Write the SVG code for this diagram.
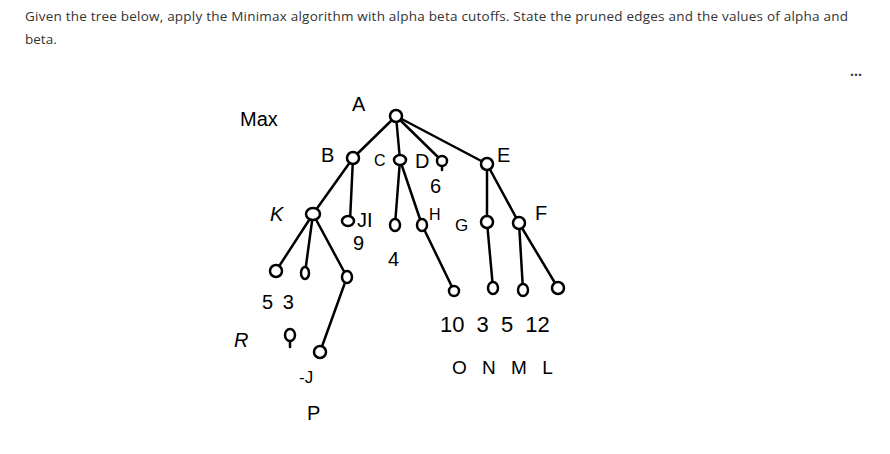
<svg xmlns="http://www.w3.org/2000/svg" width="890" height="454" viewBox="0 0 890 454">
<style>
.h{font-family:"Open Sans",sans-serif;font-size:13.5px;fill:#333}
.e line{stroke:#000;stroke-width:2.5;stroke-linecap:round}
.n{fill:#fff;stroke:#000;stroke-width:2.5}
.l{font-family:"Liberation Sans",sans-serif;font-size:20px;fill:#000}
</style>
<rect width="890" height="454" fill="#fff"/>
<text class="h" x="25" y="21" textLength="823" lengthAdjust="spacing">Given the tree below, apply the Minimax algorithm with alpha beta cutoffs. State the pruned edges and the values of alpha and</text>
<text class="h" x="25" y="44">beta.</text>
<text class="h" x="850" y="76" style="font-size:14px;font-weight:bold">...</text>
<g class="e" id="edges">
<line x1="396" y1="116" x2="353" y2="158"/><line x1="396" y1="116" x2="400" y2="160"/>
<line x1="396" y1="116" x2="442" y2="161"/><line x1="396" y1="116" x2="487" y2="164"/>
<line x1="353" y1="158" x2="313" y2="214"/><line x1="353" y1="158" x2="350" y2="221"/>
<line x1="400" y1="160" x2="395" y2="225"/><line x1="400" y1="160" x2="422" y2="225"/>
<line x1="487" y1="164" x2="487" y2="222"/><line x1="487" y1="164" x2="519" y2="223"/>
<line x1="313" y1="214" x2="276" y2="271"/><line x1="313" y1="214" x2="305" y2="273"/><line x1="313" y1="214" x2="347" y2="277"/>
<line x1="347" y1="277" x2="320" y2="352"/>
<line x1="422" y1="225" x2="454" y2="291"/><line x1="487" y1="222" x2="493" y2="288"/>
<line x1="519" y1="223" x2="523" y2="290"/><line x1="519" y1="223" x2="558" y2="288"/>
<line x1="442" y1="161" x2="442" y2="170"/><line x1="290" y1="335" x2="290" y2="347"/>
</g>
<g id="nodes">
<ellipse id="A" class="n" cx="396" cy="116" rx="6" ry="6"/>
<ellipse id="B" class="n" cx="353" cy="158" rx="6" ry="6"/>
<ellipse id="C" class="n" cx="400" cy="160" rx="6" ry="5"/>
<ellipse id="D" class="n" cx="442" cy="161" rx="5" ry="5"/>
<ellipse id="E" class="n" cx="487" cy="164" rx="6" ry="6"/>
<ellipse id="K" class="n" cx="313" cy="214" rx="7" ry="6"/>
<ellipse id="J" class="n" cx="348" cy="221" rx="6" ry="5"/>
<ellipse id="I" class="n" cx="395" cy="225" rx="5" ry="6"/>
<ellipse id="H" class="n" cx="422" cy="225" rx="5" ry="6"/>
<ellipse id="G" class="n" cx="487" cy="222" rx="6" ry="6"/>
<ellipse id="F" class="n" cx="519" cy="223" rx="6" ry="6"/>
<ellipse id="R" class="n" cx="276" cy="271" rx="6" ry="6"/>
<ellipse id="Q" class="n" cx="305" cy="273" rx="4" ry="6"/>
<ellipse id="Kc" class="n" cx="347" cy="277" rx="5" ry="6"/>
<ellipse id="P" class="n" cx="320" cy="352" rx="6" ry="6"/>
<ellipse id="Qs" class="n" cx="290" cy="335" rx="5" ry="6"/>
<ellipse id="O" class="n" cx="454" cy="291" rx="5" ry="5"/>
<ellipse id="N" class="n" cx="493" cy="288" rx="5" ry="6"/>
<ellipse id="M" class="n" cx="523" cy="290" rx="5" ry="6"/>
<ellipse id="L" class="n" cx="558" cy="288" rx="6" ry="6"/>
</g>
<g class="l">
<text x="240" y="126">Max</text><text x="352" y="111">A</text>
<text x="321" y="162">B</text><text x="374" y="166" style="font-size:16px">C</text>
<text x="415" y="168">D</text><text x="497" y="162">E</text><text x="430" y="193">6</text>
<text x="270" y="221" font-style="italic">K</text><text x="357" y="227">JI</text>
<text x="353" y="250">9</text><text x="388" y="266">4</text>
<text x="429" y="220" style="font-size:16px">H</text><text x="455" y="231" style="font-size:17px">G</text>
<text x="535" y="220">F</text>
<text x="262" y="309" style="word-spacing:4px">5 3</text><text x="234" y="347" font-style="italic">R</text>
<text x="299" y="383" style="font-size:17px">-J</text><text x="307" y="420">P</text>
<text x="440" y="332" style="font-size:22px;word-spacing:6px">10 3 5 12</text>
<text x="452" y="374" style="font-size:19px;word-spacing:10px">O N M L</text>
</g>
</svg>
